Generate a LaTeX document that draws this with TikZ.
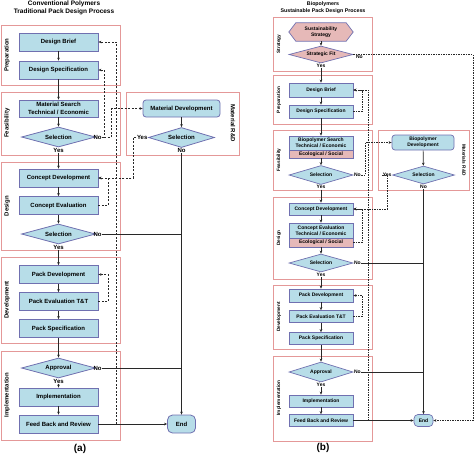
\documentclass[tikz,border=0pt]{standalone}
\usepackage{fontspec}
\setmainfont{Liberation Sans}
\usetikzlibrary{shapes.geometric,arrows.meta,backgrounds}
\definecolor{bluef}{RGB}{183,221,232}
\definecolor{pinkf}{RGB}{230,185,184}
\definecolor{bord}{RGB}{112,112,176}
\definecolor{secc}{RGB}{228,152,152}
\definecolor{lnc}{RGB}{40,40,40}
\newcommand\fsz[2]{\fontsize{#1}{#2}\selectfont\bfseries}
\tikzset{
  sec/.style={draw=secc, line width=0.8pt},
  blkA/.style={draw=bord, fill=bluef, line width=0.8pt, font=\fsz{6}{7.5}, align=center, inner sep=0pt, minimum width=79pt, minimum height=18pt},
  blkB/.style={draw=bord, fill=bluef, line width=0.7pt, font=\fsz{5}{6}, align=center, inner sep=0pt, minimum width=64pt, minimum height=13pt},
  pinkB/.style={blkB, fill=pinkf},
  diaA/.style={diamond, aspect=4, draw=bord, fill=bluef, line width=0.8pt, font=\fsz{6}{7}, inner sep=0pt, minimum width=74pt, minimum height=20pt},
  diaB/.style={diamond, aspect=4, draw=bord, fill=bluef, line width=0.7pt, font=\fsz{5}{6}, inner sep=0pt, minimum width=64pt, minimum height=19pt},
  hexB/.style={font=\fsz{5}{6}, align=center, inner sep=0pt, minimum width=64pt, minimum height=18pt},
  lblA/.style={font=\fsz{6}{7}, inner sep=0.5pt},
  lblB/.style={font=\fsz{5}{6}, inner sep=0.5pt},
  secA/.style={font=\fsz{6}{7}, rotate=90},
  secAr/.style={font=\fsz{6}{7}, rotate=-90},
  secB/.style={font=\fsz{4.7}{5.5}, rotate=90},
  secBr/.style={font=\fsz{4.7}{5.5}, rotate=-90},
  arr/.style={draw=lnc, line width=0.7pt, -{Stealth[length=3pt,width=2.6pt]}},
  ln/.style={draw=lnc, line width=0.7pt},
  darrA/.style={draw=lnc, line width=0.8pt, dash pattern=on 2pt off 1.5pt, -{Stealth[length=3pt,width=2.6pt]}},
  darrB/.style={draw=lnc, line width=0.8pt, dash pattern=on 1.4pt off 1.1pt, -{Stealth[length=3pt,width=2.6pt]}},
}
\begin{document}
\begin{tikzpicture}[x=1pt,y=-1pt]
\useasboundingbox (0,0) rectangle (474,456);

% ================= Panel (a) =================
\node[font=\fsz{6.5}{8}, align=center] (titA) at (64,7.5) {Conventional Polymers\\Traditional Pack Design Process};

\draw[sec] (1.5,25) rectangle (120,85);
\draw[sec] (1.5,92) rectangle (120,155);
\draw[sec] (126,92) rectangle (239,155);
\draw[sec] (1.5,162) rectangle (120,250);
\draw[sec] (1.5,257) rectangle (120,343);
\draw[sec] (1.5,351) rectangle (120,440);

\node[secA] (lpA) at (7,55) {Preparation};
\node[secA] (lfA) at (7,123) {Feasibility};
\node[secA] (ldA) at (7,206) {Design};
\node[secA] (lvA) at (7,300) {Development};
\node[secA] (liA) at (7,395) {Implementation};
\node[secAr] (lrA) at (233,123) {Material R\&D};

\node[blkA] (briefA) at (58.5,42) {Design Brief};
\node[blkA] (specA) at (58.5,70) {Design Specification};
\node[blkA, minimum height=17pt] (msA) at (58.5,108.5) {Material Search\\Technical / Economic};
\node[diaA] (selA1) at (58.5,137) {Selection};
\node[blkA, rounded corners=3pt, minimum width=77pt, minimum height=17pt] (mdA) at (181.5,108.5) {Material Development};
\node[diaA, minimum width=66pt] (selA2) at (181.5,137.5) {Selection};
\node[blkA] (cdA) at (58.5,178) {Concept Development};
\node[blkA] (ceA) at (58.5,205.5) {Concept Evaluation};
\node[diaA] (selA3) at (58.5,234) {Selection};
\node[blkA] (pdA) at (58.5,274.5) {Pack Development};
\node[blkA] (peA) at (58.5,301.5) {Pack Evaluation T\&T};
\node[blkA] (psA) at (58.5,328.5) {Pack Specification};
\node[diaA] (apA) at (58.5,368) {Approval};
\node[blkA] (imA) at (58.5,397) {Implementation};
\node[blkA] (fbA) at (58.5,424) {Feed Back and Review};
\node[blkA, rounded corners=5pt, minimum width=28pt] (endA) at (181.5,424) {End};

\node[lblA, anchor=west, xshift=-3pt] (noA1) at (selA1.east) {No};
\node[lblA, anchor=north] (yesA1) at (selA1.south) {Yes};
\node[lblA, anchor=east] (yesA2) at (selA2.west) {Yes};
\node[lblA, anchor=north] (noA2) at (selA2.south) {No};
\node[lblA, anchor=west, xshift=-3pt] (noA3) at (selA3.east) {No};
\node[lblA, anchor=north] (yesA3) at (selA3.south) {Yes};
\node[lblA, anchor=west, xshift=-3pt] (noA4) at (apA.east) {No};
\node[lblA, anchor=north] (yesA4) at (apA.south) {Yes};

\draw[arr] (briefA) -- (specA);
\draw[arr] (specA) -- (msA);
\draw[arr] (msA) -- (selA1);
\draw[arr] (yesA1) -- (cdA);
\draw[arr] (cdA) -- (ceA);
\draw[arr] (ceA) -- (selA3);
\draw[arr] (yesA3) -- (pdA);
\draw[arr] (pdA) -- (peA);
\draw[arr] (peA) -- (psA);
\draw[arr] (psA) -- (apA);
\draw[arr] (yesA4) -- (imA);
\draw[arr] (imA) -- (fbA);
\draw[arr] (fbA) -- (endA);
\draw[arr] (mdA) -- (selA2);
\draw[arr] (noA2) -- (endA);
\draw[ln] (noA3.east) -- (noA3.east -| endA.north);
\draw[ln] (noA4.east) -- (noA4.east -| endA.north);

\coordinate (xA1) at (104,0);
\coordinate (xA2) at (111,0);
\coordinate (xA3) at (116.5,0);
\coordinate (xA4) at (108,0);
\coordinate (xA5) at (133,0);
\draw[darrA] (noA1.east) -- (noA1.east -| xA1) |- (specA.east);
\draw[darrA] (noA1.east -| xA1) -- (noA1.east -| xA2) |- (mdA.west);
\draw[darrA] (fbA.east -| xA3) |- (briefA.east);
\draw[darrA] (ceA.east) -- (ceA.east -| xA4) |- (cdA.east);
\draw[darrA] (yesA2.west) -- (yesA2.west -| xA5) |- (cdA.east);
\draw[darrA] (peA.east) -- (peA.east -| xA4) |- (pdA.east);

\node[font=\fsz{10}{12}] (capA) at (80,449) {(a)};

% ================= Panel (b) =================
\node[font=\fsz{5.3}{7}, align=center] (titB) at (323,7.5) {Biopolymers\\Sustainable Pack Design Process};

\draw[sec] (273,17) rectangle (372,71);
\draw[sec] (273,75) rectangle (372,124);
\draw[sec] (273,130) rectangle (372,190);
\draw[sec] (378,130) rectangle (469,190);
\draw[sec] (273,197) rectangle (372,279);
\draw[sec] (273,285) rectangle (372,349);
\draw[sec] (273,356) rectangle (372,441);

\node[secB] (lsB) at (279,44) {Strategy};
\node[secB] (lpB) at (279,100) {Preparation};
\node[secB] (lfB) at (279,160) {Feasibility};
\node[secB] (ldB) at (279,238) {Design};
\node[secB] (lvB) at (279,317) {Development};
\node[secB] (liB) at (279,398) {Implementation};
\node[secBr] (lrB) at (464,160) {Materials R\&D};

\node[hexB] (susB) at (321,32) {Sustainability\\Strategy};
\begin{scope}[on background layer]
\draw[draw=bord, fill=pinkf, line width=0.7pt] (susB.west) -- ([xshift=7pt]susB.north west) -- ([xshift=-7pt]susB.north east) -- (susB.east) -- ([xshift=-7pt]susB.south east) -- ([xshift=7pt]susB.south west) -- cycle;
\end{scope}
\node[diaB, fill=pinkf, minimum height=17pt] (fitB) at (321,54.5) {Strategic Fit};
\node[blkB, minimum height=14pt] (brB) at (321,90) {Design Brief};
\node[blkB] (spB) at (321,111.5) {Design Specification};
\node[blkB, minimum height=14pt] (bsB) at (321,143) {Biopolymer Search\\Technical / Economic};
\node[pinkB, minimum height=8pt] (bsBe) at (321,154) {Ecological / Social};
\node[diaB] (selB1) at (321,175) {Selection};
\node[blkB, rounded corners=3pt, minimum width=62pt, minimum height=15pt] (bdB) at (423,142.5) {Biopolymer\\Development};
\node[diaB, minimum width=62pt, minimum height=18pt] (selB2) at (423.5,175) {Selection};
\node[blkB, minimum height=12pt] (cdB) at (321,209) {Concept Development};
\node[blkB, minimum height=15pt] (ceB) at (321,230.5) {Concept Evaluation\\Technical / Economic};
\node[pinkB, minimum height=9pt] (ceBe) at (321,242.5) {Ecological / Social};
\node[diaB, minimum height=18pt] (selB3) at (321,263) {Selection};
\node[blkB] (pdB) at (321,295.5) {Pack Development};
\node[blkB, minimum height=12pt] (peB) at (321,316.5) {Pack Evaluation T\&T};
\node[blkB, minimum height=12pt] (psB) at (321,338.5) {Pack Specification};
\node[diaB, minimum height=20pt] (apB) at (321,372) {Approval};
\node[blkB, minimum height=12pt] (imB) at (321,401) {Implementation};
\node[blkB, minimum height=12pt] (fbB) at (321,420.5) {Feed Back and Review};
\node[blkB, rounded corners=4pt, minimum width=19pt, minimum height=12pt] (endB) at (423.5,420.5) {End};

\node[lblB, anchor=north west, xshift=2pt] (noB0) at (fitB.east) {No};
\node[lblB, anchor=north] (yesB0) at (fitB.south) {Yes};
\node[lblB, anchor=west] (noB1) at (selB1.east) {No};
\node[lblB, anchor=north] (yesB1) at (selB1.south) {Yes};
\node[lblB, anchor=east] (yesB2) at (selB2.west) {Yes};
\node[lblB, anchor=north] (noB2) at (selB2.south) {No};
\node[lblB, anchor=west] (noB3) at (selB3.east) {No};
\node[lblB, anchor=north] (yesB3) at (selB3.south) {Yes};
\node[lblB, anchor=west] (noB4) at (apB.east) {No};
\node[lblB, anchor=north] (yesB4) at (apB.south) {Yes};

\draw[arr] (susB) -- (fitB);
\draw[arr] (yesB0) -- (brB);
\draw[arr] (brB) -- (spB);
\draw[arr] (spB) -- (bsB);
\draw[arr] (bsBe) -- (selB1);
\draw[arr] (yesB1) -- (cdB);
\draw[arr] (cdB) -- (ceB);
\draw[arr] (ceBe) -- (selB3);
\draw[arr] (yesB3) -- (pdB);
\draw[arr] (pdB) -- (peB);
\draw[arr] (peB) -- (psB);
\draw[arr] (psB) -- (apB);
\draw[arr] (yesB4) -- (imB);
\draw[arr] (imB) -- (fbB);
\draw[arr] (fbB) -- (endB);
\draw[arr] (bdB) -- (selB2);
\draw[arr] (noB2) -- (endB);
\draw[ln] (noB3.east) -- (noB3.east -| endB.north);
\draw[ln] (noB4.east) -- (noB4.east -| endB.north);

\coordinate (xB1) at (362,0);
\coordinate (xB2) at (365.5,0);
\coordinate (xB3) at (368.5,0);
\coordinate (xB4) at (387,0);
\coordinate (xB5) at (473,0);
\draw[darrB] (fitB.east) -- (fitB.east -| xB5) |- (endB.east);
\draw[darrB] (spB.east) -- (spB.east -| xB1) |- (brB.east);
\draw[darrB] (fbB.east -| xB3) |- (brB.east);
\draw[darrB] (noB1.east) -- (noB1.east -| xB2) |- (bdB.west);
\draw[darrB] (yesB2.west) -- (yesB2.west -| xB4) |- (cdB.east);
\draw[darrB] (ceBe.east) -- (ceBe.east -| xB1) |- (cdB.east);
\draw[darrB] (peB.east) -- (peB.east -| xB1) |- (pdB.east);

\node[font=\fsz{10}{12}] (capB) at (323,448) {(b)};
\end{tikzpicture}
\end{document}
